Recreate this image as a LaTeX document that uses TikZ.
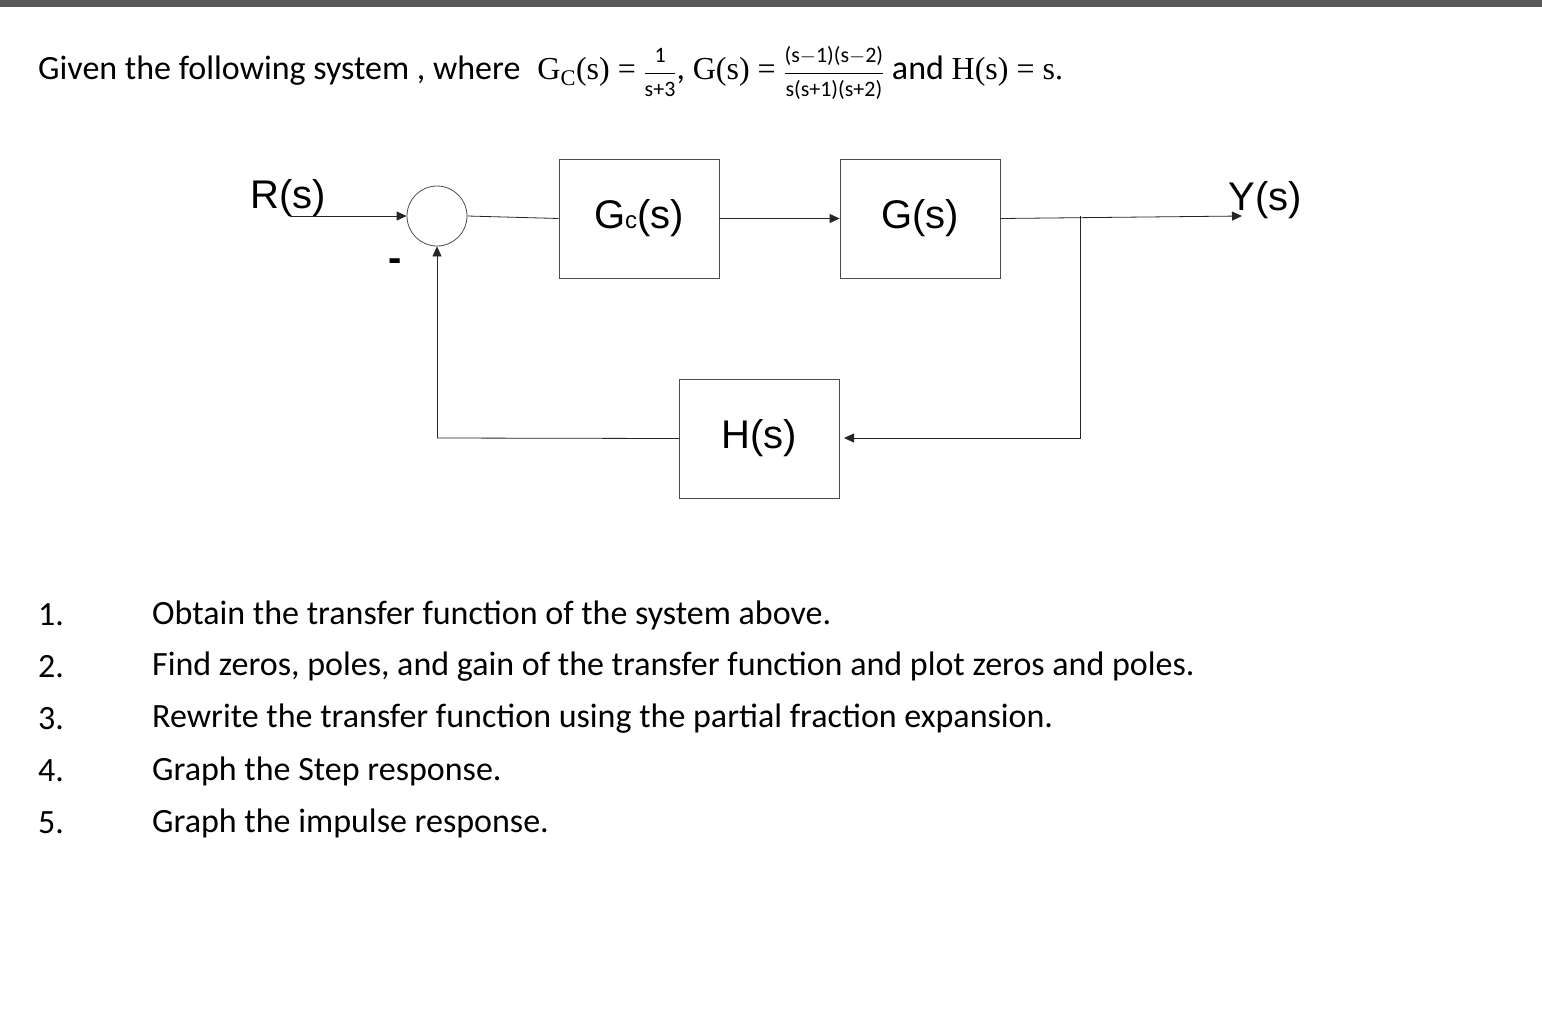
\documentclass[tikz,border=0pt]{standalone}
\usepackage{fontspec}
\setmainfont{Carlito}
\newfontfamily\arial{Liberation Sans}
\newfontfamily\serifm{Liberation Serif}
\usetikzlibrary{arrows.meta}
\newcommand{\fs}[1]{\mbox{\fontsize{22}{24}\selectfont #1}}
\begin{document}
\begin{tikzpicture}[x=1pt,y=-1pt,
  blk/.style={draw=black!70,line width=0.8pt,minimum width=160pt,minimum height=119pt,font=\arial\fontsize{40}{46}\selectfont},
  ln/.style={line width=0.8pt,draw=black!85},
  arr/.style={ln,-{Triangle[length=10pt,width=9pt]}},
  txt/.style={anchor=west,font=\fontsize{34}{40}\selectfont,inner sep=0pt}]
\useasboundingbox (0,0) rectangle (1542,1018);
\fill[black!65] (0,0) rectangle (1542,7);
\node[txt] (intro) at (38,73) {Given the following system , where\enspace {\serifm\fontsize{32}{36}\selectfont G\textsubscript{C}(s) =} $\displaystyle\frac{\fs{1}}{\fs{s+3}}$, {\serifm\fontsize{32}{36}\selectfont G(s) =} $\displaystyle\frac{\fs{(s$-$1)(s$-$2)}}{\fs{s(s+1)(s+2)}}$ and {\serifm\fontsize{32}{36}\selectfont H(s) = s.}};
\node[draw=black!70,line width=0.8pt,circle,minimum size=60pt,inner sep=0pt] (sum) at (437,216) {};
\node[blk] (gc) at (639,218.5) {G{\fontsize{24}{28}\selectfont c}(s)};
\node[blk] (g) at (920,218.5) {G(s)};
\node[blk] (h) at (759.5,438.5) {H(s)};
\node[font=\arial\fontsize{40}{46}\selectfont] (r) at (288,198) {R(s)};
\node[font=\arial\fontsize{40}{46}\selectfont] (y) at (1265,200) {Y(s)};
\node[font=\arial\fontsize{40}{46}\selectfont\bfseries] (minus) at (395,265) {-};
\coordinate (rin) at (290,216);
\coordinate (yout) at (1242,216);
\coordinate (br) at (1080,216);
\coordinate (hin) at (844,438);
\coordinate (cor) at (437,438);
\draw[arr] (rin) -- (sum.west);
\draw[ln] (sum.east) -- (gc.west);
\draw[arr] (gc.east) -- (g.west);
\draw[arr] (g.east) -- (yout);
\draw[arr] (br) |- (hin);
\draw[ln] (h.west) -- (cor);
\draw[arr] (cor) -- (sum.south);
\foreach \n/\t [count=\i] in {1./Obtain the transfer function of the system above.,
 2./{Find zeros, poles, and gain of the transfer function and plot zeros and poles.},
 3./Rewrite the transfer function using the partial fraction expansion.,
 4./Graph the Step response.,
 5./Graph the impulse response.}{
 \node[txt] (n\i) at (38,563+52*\i) {\n};
 \node[txt] (t\i) at (152,563+52*\i) {\t};
}
\end{tikzpicture}
\end{document}
